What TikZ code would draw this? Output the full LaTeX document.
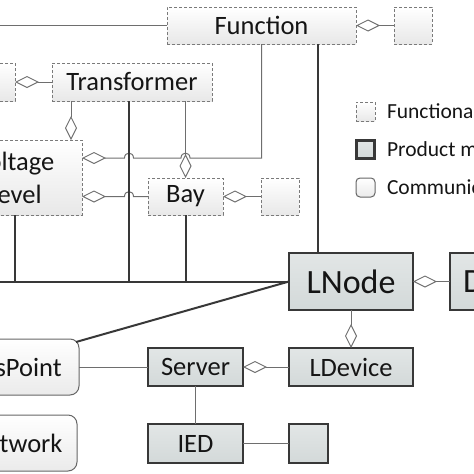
\documentclass[tikz,border=0pt]{standalone}
\usepackage{fontspec}
\setmainfont{Carlito}
\usetikzlibrary{arrows.meta,calc}
\definecolor{thin}{HTML}{6E6E6E}
\definecolor{thick}{HTML}{383838}
\definecolor{dashc}{HTML}{7A7A7A}
\definecolor{prodfill}{HTML}{D3D9D9}
\definecolor{prodtop}{HTML}{E2E6E6}
\definecolor{txt}{HTML}{151515}
\begin{document}
\begin{tikzpicture}[x=1pt,y=-1pt,
  every node/.style={text=txt, inner sep=0pt, outer sep=0pt},
  mainfont/.style={font=\fontsize{26.5}{33}\selectfont},
  fbox/.style={mainfont, draw=dashc, line width=0.9pt, dash pattern=on 3pt off 2pt,
     top color=white, bottom color=black!9, rectangle},
  pbox/.style={mainfont, draw=thick, line width=2.4pt, top color=prodtop, bottom color=prodfill, rectangle},
  cbox/.style={mainfont, draw=black!60, line width=1pt, rounded corners=9pt,
     top color=white, bottom color=black!8, rectangle},
  thinline/.style={draw=thin, line width=1pt},
  thickline/.style={draw=thick, line width=2pt},
  agg/.style={thinline, -{Diamond[open, length=24pt, width=12pt]}},
  legtext/.style={font=\fontsize{21.5}{25}\selectfont, anchor=west}
]
\useasboundingbox (0,0) rectangle (474,474);
\clip (0,0) rectangle (474,474);

% functional boxes
\node[fbox, minimum width=189, minimum height=37] (Function) at (261.5,25.5) {Function};
\node[fbox, minimum width=38, minimum height=37] (FuncSmall) at (413,25.5) {};
\node[fbox, minimum width=65, minimum height=38] (Subst) at (-17.5,82) {};
\node[fbox, minimum width=160, minimum height=38] (Transformer) at (132,82) {Transformer};
\node[fbox, minimum width=136, minimum height=75, align=center] (VL) at (14,177.5) {Voltage\\Level};
\node[fbox, minimum width=75, minimum height=37] (Bay) at (185.5,196.5) {Bay};
\node[fbox, minimum width=38, minimum height=37] (BaySmall) at (280,196.5) {};

% product boxes
\node[pbox, minimum width=124, minimum height=57, font=\fontsize{34}{38}\selectfont] (LNode) at (351,281.5) {LNode};
\node[pbox, minimum width=110, minimum height=57, anchor=west, text width=84pt, inner xsep=13pt, align=left, font=\fontsize{34}{38}\selectfont] (DBox) at (450,281.5) {D};
\node[pbox, minimum width=95, minimum height=38] (Server) at (195.5,367) {Server};
\node[pbox, minimum width=124, minimum height=38] (LDevice) at (351,367) {LDevice};
\node[pbox, minimum width=95, minimum height=39] (IED) at (195.5,443.5) {IED};
\node[pbox, minimum width=39, minimum height=39] (IEDSmall) at (308.5,443.5) {};

% communication boxes
\node[cbox, minimum width=162, minimum height=56] (AP) at (-2,367) {AccessPoint};
\node[cbox, minimum width=162, minimum height=56] (SN) at (-4,443) {SubNetwork};

% legend
\node[fbox, minimum width=19, minimum height=19] (Lf) at (365.5,111.5) {};
\node[pbox, minimum width=18, minimum height=18, line width=2.2pt] (Lp) at (365.5,149.5) {};
\node[cbox, minimum width=19, minimum height=19, rounded corners=4pt] (Lc) at (365.5,187.5) {};
\node[legtext] (Lft) at (387,111.5) {Functional model};
\node[legtext] (Lpt) at (387,149.5) {Product model};
\node[legtext] (Lct) at (387,187.5) {Communication model};

% helper coordinates
\coordinate (xT) at (129,0);
\coordinate (x71) at (71,0);
\coordinate (x318) at (318,0);
\coordinate (x15) at (15,0);
\coordinate (y158) at (0,158);
\coordinate (fleft) at (-10,25.5);
\coordinate (busleft) at (-10,281.5);

% thin connectors
\draw[thinline] (fleft) -- (Function.west);
\draw[agg] (FuncSmall.west) -- (Function.east);
\draw[agg] (Transformer.west) -- (Subst.east);
\draw[agg] (Transformer.south -| x71) -- (VL.north -| x71);
\draw[agg] (Transformer.south -| Bay.north) -- (Bay.north);
\draw[agg] (BaySmall.west) -- (Bay.east);
\draw[agg] (Function.south) -- (Function.south |- y158)
   -- ($(Bay.north |- y158)+(4.5,0)$) .. controls +(0,-6.5) and +(0,-6.5) .. ($(Bay.north |- y158)+(-4.5,0)$)
   -- ($(xT |- y158)+(4.5,0)$) .. controls +(0,-6.5) and +(0,-6.5) .. ($(xT |- y158)+(-4.5,0)$)
   -- (VL.east |- y158);
\draw[agg] (Bay.west) -- ($(xT |- Bay.west)+(4.5,0)$) .. controls +(0,-6.5) and +(0,-6.5) .. ($(xT |- Bay.west)+(-4.5,0)$)
   -- (VL.east |- Bay.west);
\draw[agg] (DBox.west) -- (LNode.east);
\draw[agg] (LNode.south) -- (LDevice.north);
\draw[agg] (LDevice.west) -- (Server.east);
\draw[thinline] (AP.east) -- (Server.west);
\draw[thinline] (Server.south) -- (IED.north);
\draw[thinline] (IED.east) -- (IEDSmall.west);

% thick connectors
\draw[thickline] (Function.south -| x318) -- (LNode.north -| x318);
\draw[thickline] (Transformer.south -| xT) -- (xT |- LNode.west);
\draw[thickline] (VL.south -| x15) -- (x15 |- LNode.west);
\draw[thickline] (Bay.south) -- (Bay.south |- LNode.west);
\draw[thickline] (busleft) -- (LNode.west);
\draw[thickline] (LNode.west) -- ($(AP.north east)+(-3,3)$);
\end{tikzpicture}
\end{document}
